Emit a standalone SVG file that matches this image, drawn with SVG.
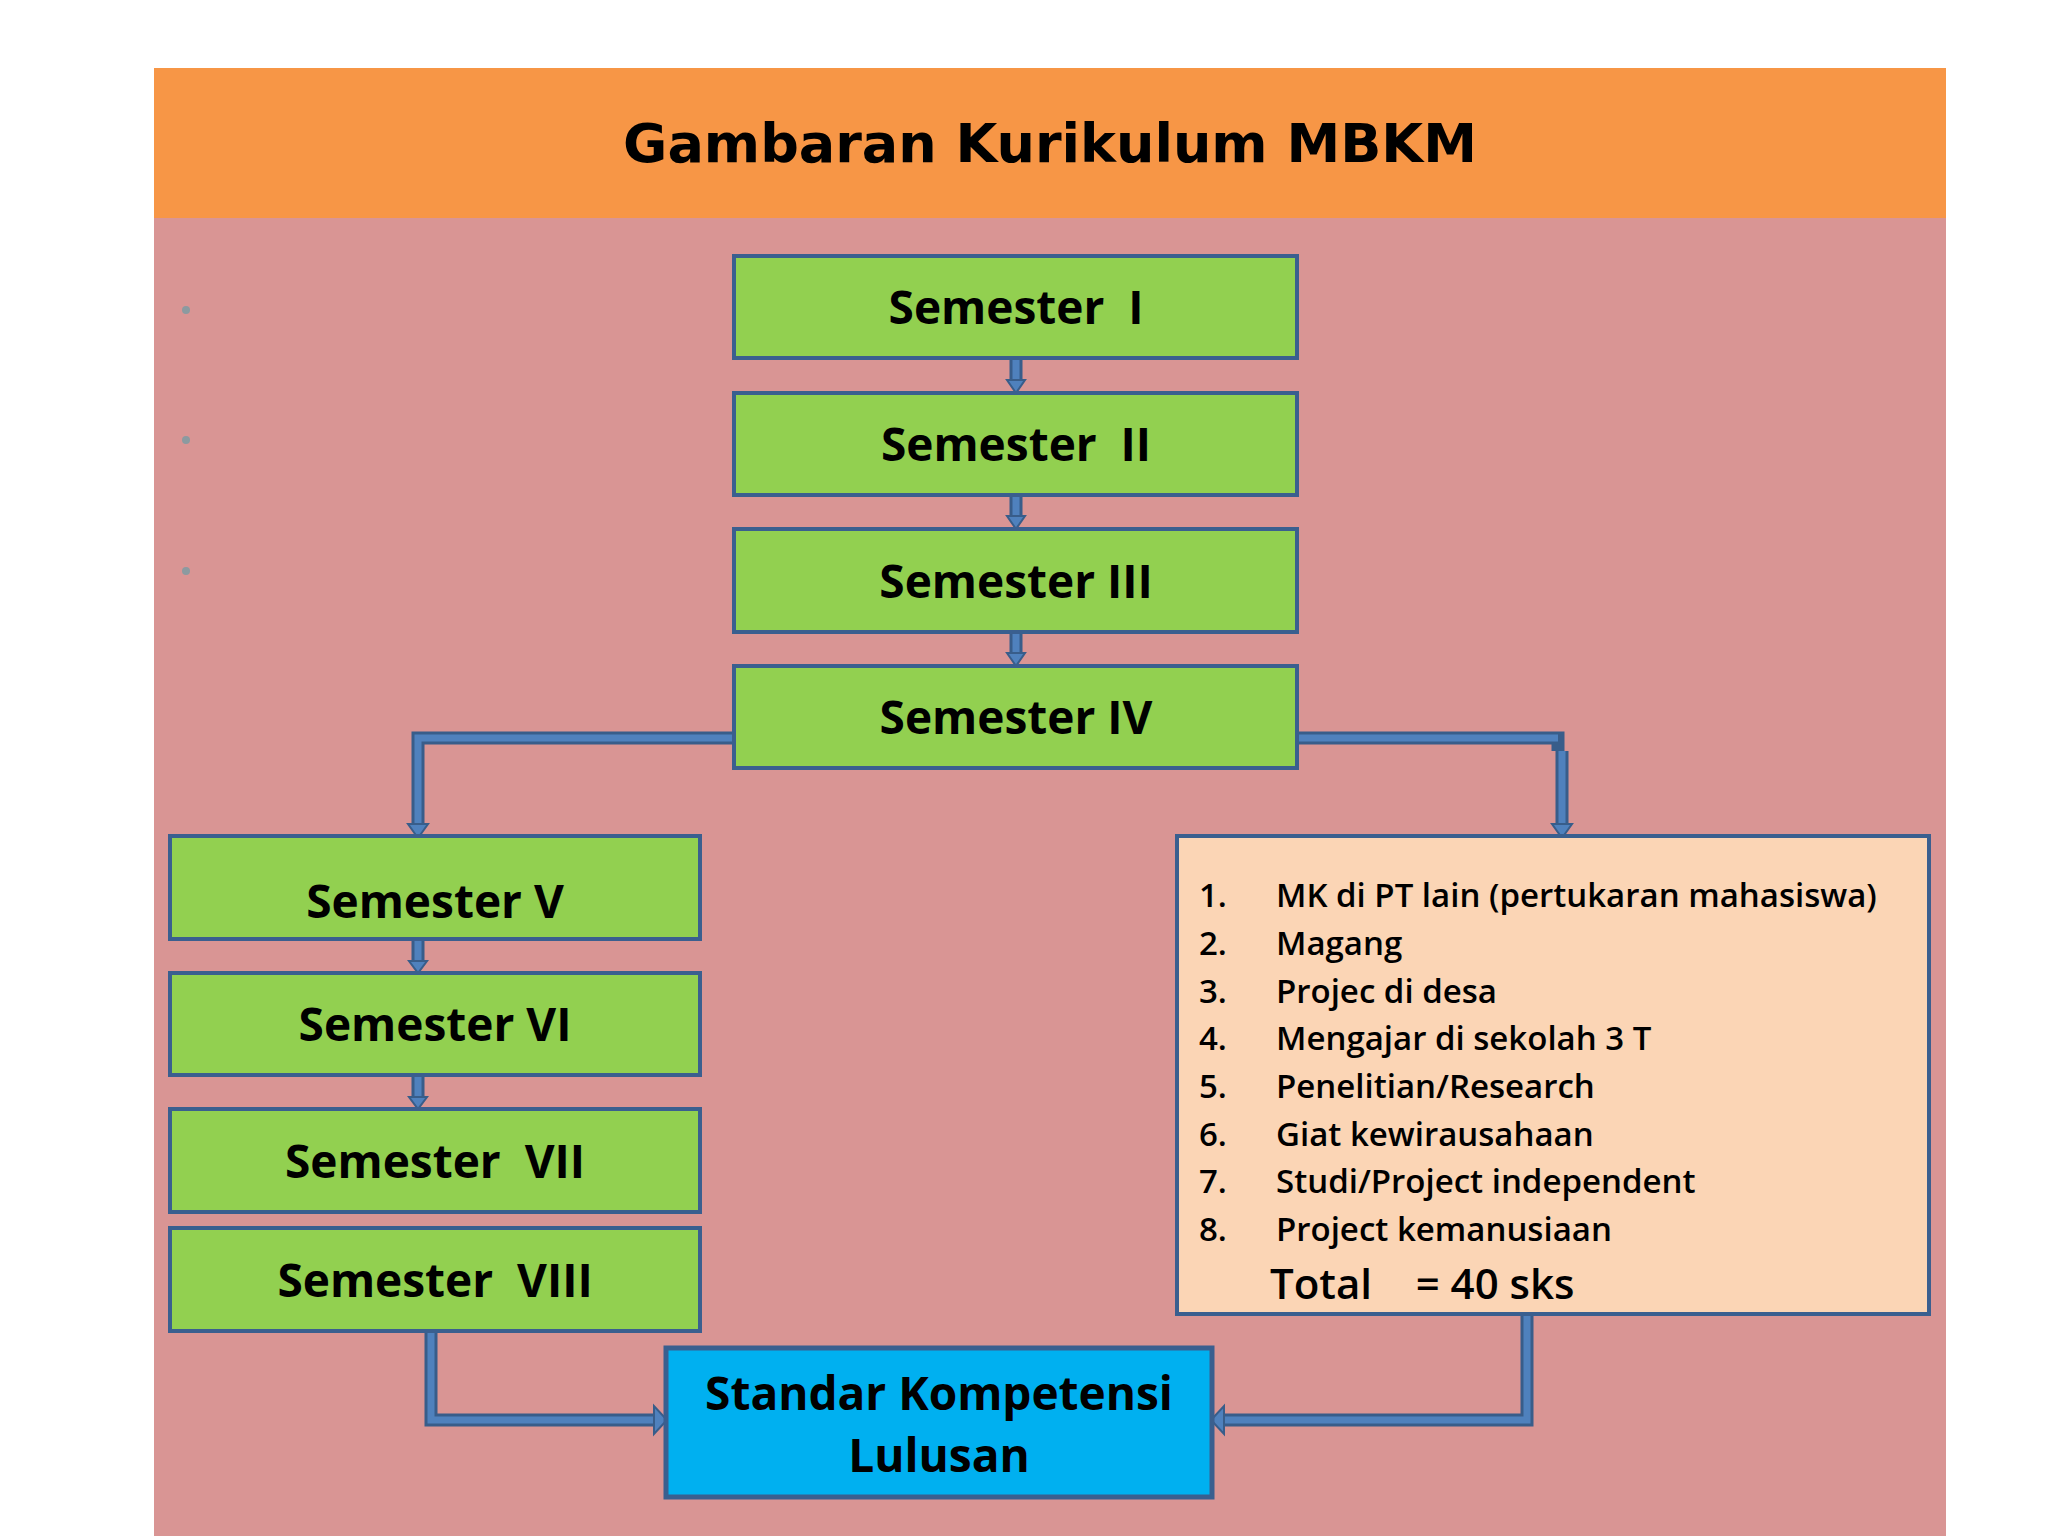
<svg xmlns="http://www.w3.org/2000/svg" width="2048" height="1536" viewBox="0 0 2048 1536">
<style>
text{white-space:pre}
.g{fill:#92D050;stroke:#3A5F8F;stroke-width:4}
.t{font-family:"Open Sans","Noto Sans",sans-serif;font-weight:bold;font-size:46px;fill:#000;text-anchor:middle}
.l{font-family:"Open Sans","Noto Sans",sans-serif;font-weight:600;font-size:33px;fill:#000}
.co{fill:none;stroke:#385D8A;stroke-width:13}
.ci{fill:none;stroke:#4F81BD;stroke-width:7}
.ah{fill:#4F81BD;stroke:#385D8A;stroke-width:2}
</style>
<rect width="2048" height="1536" fill="#fff"/>
<rect x="154" y="218" width="1792" height="1318" fill="#D99594"/>
<rect x="154" y="68" width="1792" height="150" fill="#F79646"/>
<text x="1050" y="162" font-family="'DejaVu Sans','Liberation Sans',sans-serif" font-weight="900" font-size="54" text-anchor="middle">Gambaran Kurikulum MBKM</text>
<g fill="#8C9AA0"><circle cx="186" cy="310" r="4"/><circle cx="186" cy="440" r="4"/><circle cx="186" cy="571" r="4"/></g>
<g id="connectors">
<path class="co" d="M1016 358V383M1016 495V519M1016 632V656M418 939V963M418 1075V1099"/>
<path class="ci" d="M1016 358V383M1016 495V519M1016 632V656M418 939V963M418 1075V1099"/>
<path class="co" d="M734 738H418V826"/><path class="ci" d="M734 738H418V826"/>
<path class="co" d="M1297 738H1558V751M1562 751V826"/><path class="ci" d="M1297 738H1558M1562 751V826"/>
<path class="co" d="M431 1331V1420H656"/><path class="ci" d="M431 1331V1420H656"/>
<path class="co" d="M1527 1314V1420H1222"/><path class="ci" d="M1527 1314V1420H1222"/>
<g class="ah">
<path d="M1007 380H1025L1016 393Z"/><path d="M1007 516H1025L1016 529Z"/><path d="M1007 653H1025L1016 666Z"/>
<path d="M408 824H428L418 838Z"/><path d="M409 961H427L418 973Z"/><path d="M409 1097H427L418 1109Z"/>
<path d="M1552 824H1572L1562 838Z"/>
<path d="M654 1406V1434L667 1420Z"/><path d="M1224 1406V1434L1211 1420Z"/>
</g>
</g>
<g id="s1"><rect class="g" x="734" y="256" width="563" height="102"/><text class="t" x="1016" y="324">Semester  I</text></g>
<g id="s2"><rect class="g" x="734" y="393" width="563" height="102"/><text class="t" x="1016" y="461">Semester  II</text></g>
<g id="s3"><rect class="g" x="734" y="529" width="563" height="103"/><text class="t" x="1016" y="598">Semester III</text></g>
<g id="s4"><rect class="g" x="734" y="666" width="563" height="102"/><text class="t" x="1016" y="734">Semester IV</text></g>
<g id="s5"><rect class="g" x="170" y="836" width="530" height="103"/><text class="t" x="435" y="918">Semester V</text></g>
<g id="s6"><rect class="g" x="170" y="973" width="530" height="102"/><text class="t" x="435" y="1041">Semester VI</text></g>
<g id="s7"><rect class="g" x="170" y="1109" width="530" height="103"/><text class="t" x="435" y="1178">Semester  VII</text></g>
<g id="s8"><rect class="g" x="170" y="1228" width="530" height="103"/><text class="t" x="435" y="1297">Semester  VIII</text></g>
<g id="list"><rect x="1177" y="836" width="752" height="478" fill="#FBD5B5" stroke="#3A5F8F" stroke-width="4"/>
<g class="l">
<text x="1199" y="907">1.</text><text x="1276" y="907">MK di PT lain (pertukaran mahasiswa)</text>
<text x="1199" y="955">2.</text><text x="1276" y="955">Magang</text>
<text x="1199" y="1003">3.</text><text x="1276" y="1003">Projec di desa</text>
<text x="1199" y="1050">4.</text><text x="1276" y="1050">Mengajar di sekolah 3 T</text>
<text x="1199" y="1098">5.</text><text x="1276" y="1098">Penelitian/Research</text>
<text x="1199" y="1146">6.</text><text x="1276" y="1146">Giat kewirausahaan</text>
<text x="1199" y="1193">7.</text><text x="1276" y="1193">Studi/Project independent</text>
<text x="1199" y="1241">8.</text><text x="1276" y="1241">Project kemanusiaan</text>
<text x="1270" y="1299" font-size="42">Total    = 40 sks</text>
</g></g>
<g id="skl"><rect x="666" y="1348" width="546" height="149" fill="#00B0F0" stroke="#3A5F8F" stroke-width="5"/>
<text class="t" x="939" y="1410">Standar Kompetensi</text><text class="t" x="939" y="1472">Lulusan</text></g>
</svg>
